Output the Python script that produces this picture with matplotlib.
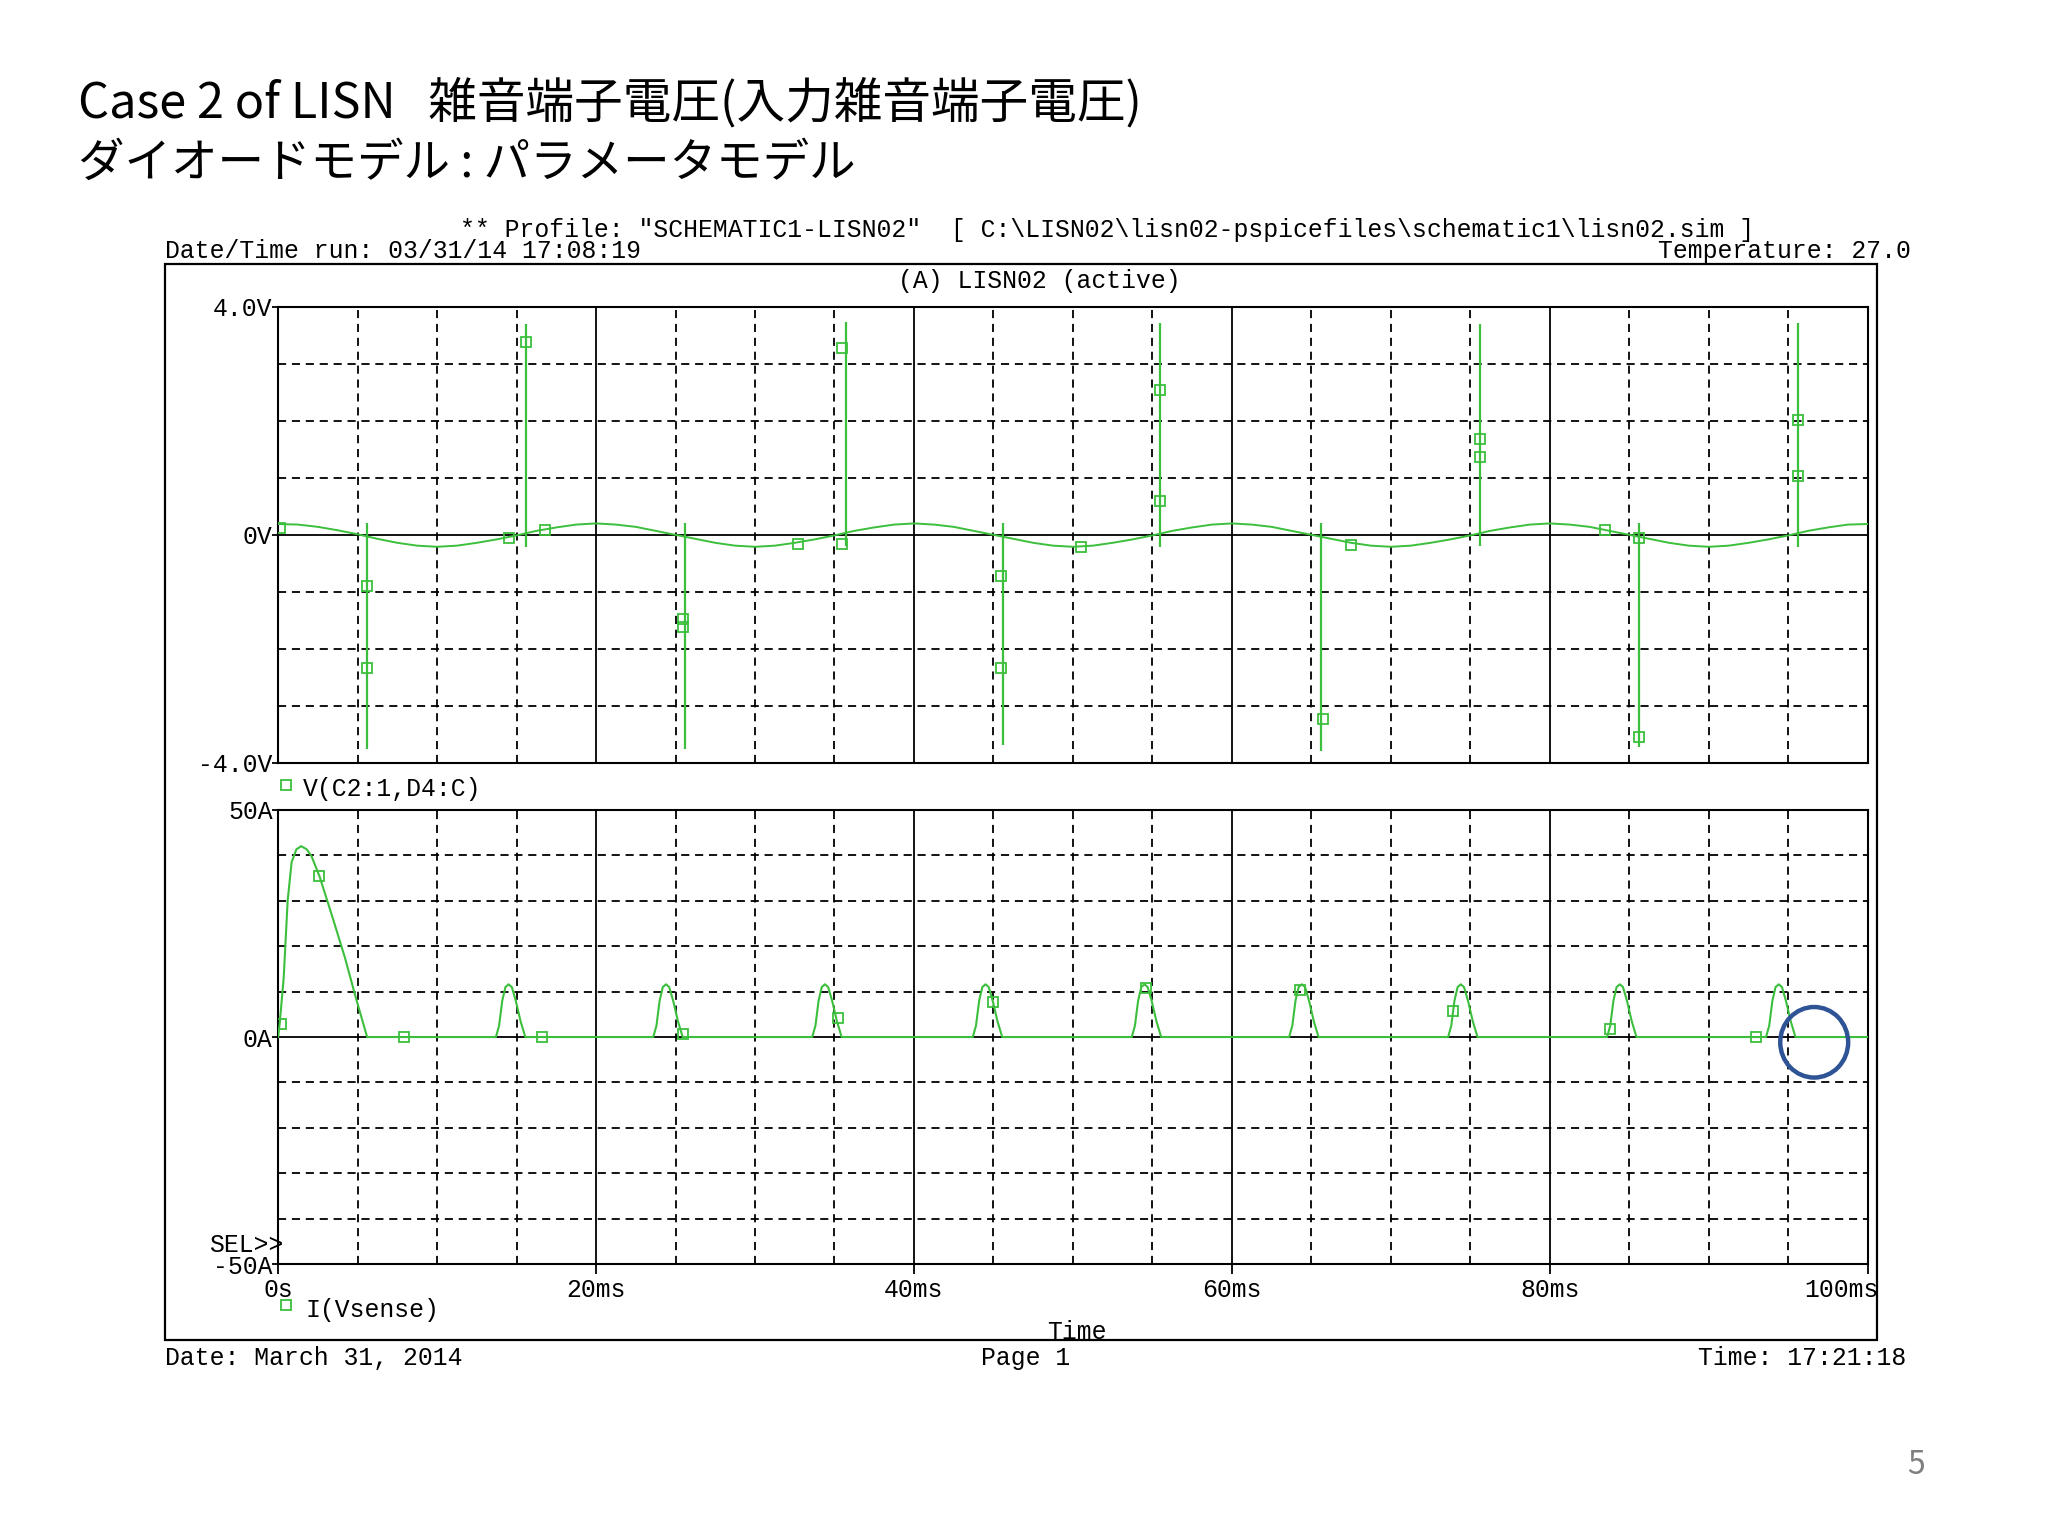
import numpy as np
import matplotlib.pyplot as plt
import matplotlib as mpl
from matplotlib.patches import Rectangle, Ellipse
from matplotlib.lines import Line2D
from matplotlib.transforms import ScaledTranslation

# ======================
# global style (PSpice print look)
# ======================
mpl.rcParams["font.family"] = ["Liberation Mono", "DejaVu Sans Mono"]
mpl.rcParams["font.size"] = 17.8
mpl.rcParams["axes.unicode_minus"] = False

GREEN = "#3cbf3c"
MONO = 17.8
CJK = ["Noto Sans CJK JP", "DejaVu Sans"]

# ======================
# data: V(C2:1,D4:C)  (time in ms, volt)
# ======================
v_t = np.linspace(0, 100, 81)
v_base = [0.19, 0.18, 0.14, 0.08, 0.01, -0.07, -0.14, -0.19, -0.21, -0.19, -0.14, -0.08, -0.01, 0.07, 0.13, 0.18,
          0.20, 0.18, 0.14, 0.07, 0.00, -0.07, -0.14, -0.19, -0.21, -0.19, -0.14, -0.08, -0.01, 0.07, 0.13, 0.18,
          0.20, 0.18, 0.14, 0.07, 0.00, -0.07, -0.14, -0.19, -0.21, -0.19, -0.14, -0.08, -0.01, 0.07, 0.13, 0.18,
          0.20, 0.18, 0.14, 0.07, 0.00, -0.07, -0.14, -0.19, -0.21, -0.19, -0.14, -0.08, -0.01, 0.07, 0.13, 0.18,
          0.20, 0.18, 0.14, 0.07, 0.00, -0.07, -0.14, -0.19, -0.21, -0.19, -0.14, -0.08, -0.01, 0.07, 0.13, 0.18,
          0.19]

spike_t = [5.6, 15.6, 25.6, 35.7, 45.6, 55.5, 65.6, 75.6, 85.6, 95.6]
spike_peak = [-3.75, 3.70, -3.76, 3.73, -3.68, 3.72, -3.80, 3.70, -3.72, 3.71]
spike_over = [0.20, -0.22, 0.20, -0.20, 0.20, -0.22, 0.20, -0.20, 0.20, -0.22]

vm_t = [0.1, 5.6, 5.6, 14.5, 15.6, 16.8, 25.5, 25.5, 32.7, 35.5, 35.5, 45.5, 45.5, 50.5,
        55.5, 55.5, 65.7, 67.5, 75.6, 75.6, 83.5, 85.6, 85.6, 95.6, 95.6]
vm_v = [0.12, -0.89, -2.34, -0.06, 3.38, 0.09, -1.48, -1.62, -0.16, 3.28, -0.16, -0.73, -2.34, -0.21,
        2.55, 0.60, -3.23, -0.18, 1.68, 1.36, 0.08, -0.05, -3.55, 2.02, 1.04]

# ======================
# data: I(Vsense)  (time in ms, ampere)
# ======================
i_t = [0, 0.1, 0.35, 0.6, 0.85, 1.15, 1.45, 1.8, 2.1, 2.6, 3.4, 4.2, 4.9, 5.6,
       13.7, 13.9, 14.1, 14.3, 14.5, 14.7, 14.95, 15.25, 15.55,
       23.6, 23.8, 24.0, 24.2, 24.4, 24.6, 24.85, 25.15, 25.45,
       33.6, 33.8, 34.0, 34.2, 34.4, 34.6, 34.85, 35.15, 35.45,
       43.7, 43.9, 44.1, 44.3, 44.5, 44.7, 44.95, 45.25, 45.55,
       53.7, 53.9, 54.1, 54.3, 54.5, 54.7, 54.95, 55.25, 55.55,
       63.6, 63.8, 64.0, 64.2, 64.4, 64.6, 64.85, 65.15, 65.45,
       73.6, 73.8, 74.0, 74.2, 74.4, 74.6, 74.85, 75.15, 75.45,
       83.6, 83.8, 84.0, 84.2, 84.4, 84.6, 84.85, 85.15, 85.45,
       93.6, 93.8, 94.0, 94.2, 94.4, 94.6, 94.85, 95.15, 95.45,
       100]
i_v = [0, 3, 13, 30, 38.5, 41.3, 42, 41.3, 39.8, 35.4, 26.6, 17.5, 8.5, 0,
       0, 2.5, 8, 11, 11.6, 11, 8, 3.5, 0,
       0, 2.5, 8, 11, 11.6, 11, 8, 3.5, 0,
       0, 2.5, 8, 11, 11.6, 11, 8, 3.5, 0,
       0, 2.5, 8, 11, 11.6, 11, 8, 3.5, 0,
       0, 2.5, 8, 11, 11.6, 11, 8, 3.5, 0,
       0, 2.5, 8, 11, 11.6, 11, 8, 3.5, 0,
       0, 2.5, 8, 11, 11.6, 11, 8, 3.5, 0,
       0, 2.5, 8, 11, 11.6, 11, 8, 3.5, 0,
       0, 2.5, 8, 11, 11.6, 11, 8, 3.5, 0,
       0]

im_t = [0.2, 2.6, 7.9, 16.6, 25.5, 35.2, 45.0, 54.6, 64.3, 73.9, 83.8, 93.0]
im_v = [2.9, 35.4, 0, 0, 0.6, 4.2, 7.8, 10.8, 10.3, 5.8, 1.7, 0]

# axis ticks / labels
x_major = [0, 20, 40, 60, 80, 100]
x_minor = [5, 10, 15, 25, 30, 35, 45, 50, 55, 65, 70, 75, 85, 90, 95]
x_labels = ["0s", "20ms", "40ms", "60ms", "80ms", "100ms"]
v_major = [-4, 0, 4]
v_minor = [-3, -2, -1, 1, 2, 3]
v_labels = ["-4.0V", "0V", "4.0V"]
i_major = [-50, 0, 50]
i_minor = [-40, -30, -20, -10, 10, 20, 30, 40]
i_labels = ["-50A", "0A", "50A"]

# ======================
# figure
# ======================
fig = plt.figure(figsize=(20.48, 15.36), dpi=100)
fig.patch.set_facecolor("white")

ax1 = fig.add_axes([0.1358, 0.5034, 0.7762, 0.2968])
ax2 = fig.add_axes([0.1358, 0.1769, 0.7762, 0.2959])

dash = (0, (4.5, 3.2))
for ax, ymaj, ymin, ylab, ylim in [(ax1, v_major, v_minor, v_labels, (-4, 4)),
                                   (ax2, i_major, i_minor, i_labels, (-50, 50))]:
    ax.set_xlim(0, 100)
    ax.set_ylim(*ylim)
    ax.set_xticks(x_major)
    ax.set_xticks(x_minor, minor=True)
    ax.set_yticks(ymaj, labels=ylab)
    ax.set_yticks(ymin, minor=True)
    ax.set_axisbelow(True)
    ax.grid(which="major", color="black", linewidth=1.3, linestyle="-")
    ax.grid(which="minor", color="black", linewidth=1.3, linestyle=dash)
    ax.tick_params(axis="both", which="minor", length=0)
    ax.tick_params(axis="y", which="major", length=4, width=1.3, pad=0, labelsize=MONO)
    for s in ax.spines.values():
        s.set_linewidth(1.5)

ax1.tick_params(axis="x", which="major", length=0, labelbottom=False)
ax2.tick_params(axis="x", which="major", length=7, width=1.3, pad=3, labelsize=MONO)
ax2.set_xticklabels(x_labels)
last = ax2.get_xticklabels()[-1]
last.set_transform(last.get_transform() + ScaledTranslation(-0.26, 0, fig.dpi_scale_trans))

# ======================
# traces
# ======================
ax1.plot(v_t, v_base, color=GREEN, linewidth=1.4, zorder=3)
ax1.vlines(spike_t, spike_over, spike_peak, color=GREEN, linewidth=1.6, zorder=3)
ax1.plot(vm_t, vm_v, "s", mfc="none", mec=GREEN, ms=7.5, mew=1.3, zorder=4)

ax2.plot(i_t, i_v, color=GREEN, linewidth=1.5, zorder=3)
ax2.plot(im_t, im_v, "s", mfc="none", mec=GREEN, ms=7.5, mew=1.3, zorder=4)

# ======================
# outer frame and printout texts
# ======================
fig.add_artist(Rectangle((0.0804, 0.1276), 0.8361, 0.7006, transform=fig.transFigure,
                         fill=False, edgecolor="black", linewidth=1.6))

fig.text(0.2245, 0.8503, '** Profile: "SCHEMATIC1-LISN02"  [ C:\\LISN02\\lisn02-pspicefiles\\schematic1\\lisn02.sim ]',
         fontsize=MONO, va="center", ha="left")
fig.text(0.0804, 0.8367, "Date/Time run: 03/31/14 17:08:19", fontsize=MONO, va="center", ha="left")
fig.text(0.933, 0.8367, "Temperature: 27.0", fontsize=MONO, va="center", ha="right")
fig.text(0.5077, 0.8172, "(A) LISN02 (active)", fontsize=MONO, va="center", ha="center")

fig.add_artist(Line2D([0.1397], [0.4890], marker="s", mfc="none", mec=GREEN, ms=7, mew=1.3,
                      transform=fig.transFigure))
fig.text(0.148, 0.4864, "V(C2:1,D4:C)", fontsize=MONO, va="center", ha="left")
fig.add_artist(Line2D([0.1397], [0.1505], marker="s", mfc="none", mec=GREEN, ms=7, mew=1.3,
                      transform=fig.transFigure))
fig.text(0.1492, 0.1472, "I(Vsense)", fontsize=MONO, va="center", ha="left")
fig.text(0.102, 0.1896, "SEL>>", fontsize=MONO, va="center", ha="left")
fig.text(0.526, 0.1327, "Time", fontsize=MONO, va="center", ha="center")

fig.text(0.0804, 0.1156, "Date: March 31, 2014", fontsize=MONO, va="center", ha="left")
fig.text(0.5006, 0.1156, "Page 1", fontsize=MONO, va="center", ha="center")
fig.text(0.931, 0.1156, "Time: 17:21:18", fontsize=MONO, va="center", ha="right")

# ======================
# slide title, page number, highlight circle
# ======================
fig.text(0.0383, 0.9330, "Case 2 of LISN   雑音端子電圧(入力雑音端子電圧)",
         family=CJK, fontsize=35, va="center", ha="left")
fig.text(0.0383, 0.8935, "ダイオードモデル : パラメータモデル",
         family=CJK, fontsize=33.5, va="center", ha="left")
fig.text(0.9356, 0.0462, "5", family=CJK, fontsize=23, color="#7f7f7f", va="center", ha="center")

fig.add_artist(Ellipse((1389 / 1568, 1 - 798 / 1176), 52 / 1568, 54 / 1176, transform=fig.transFigure,
                       fill=False, edgecolor="#2f5496", linewidth=3.2))

plt.savefig("out.png", dpi=100)
